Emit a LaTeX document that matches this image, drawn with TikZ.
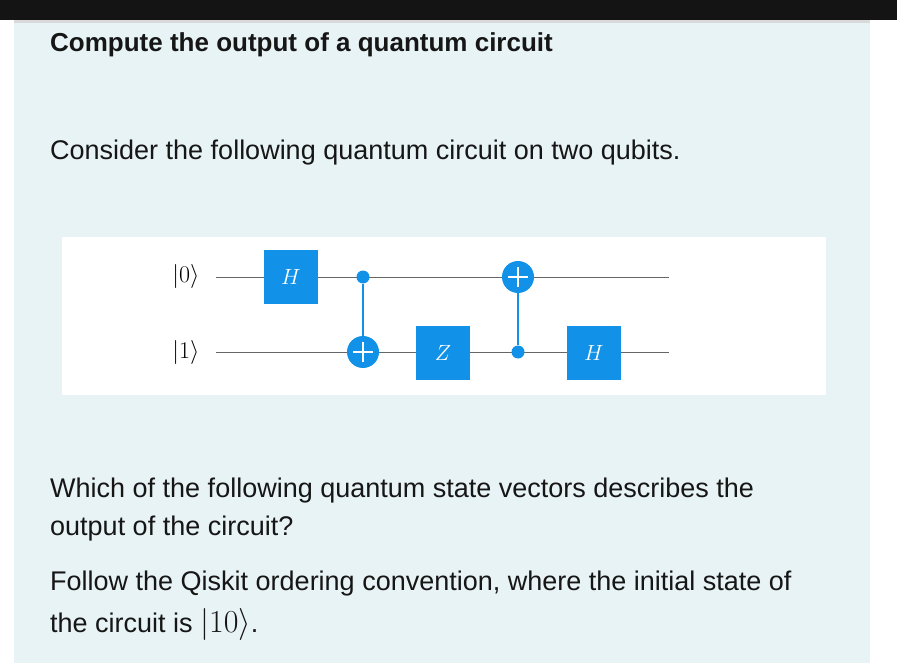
\documentclass[tikz,border=0pt]{standalone}
\usepackage{fix-cm}
\usepackage{amsmath}
\usepackage{fontspec}
\setmainfont{Liberation Sans}
\begin{document}
\begin{tikzpicture}[x=1pt,y=-1pt,
  txt/.style={anchor=base west,inner sep=0,text=fg,font=\fontsize{27}{30}\selectfont},
  gate/.style={fill=qb,minimum size=54pt,inner sep=0,text=white,font=\fontsize{22}{22}\selectfont},
  wire/.style={draw=gray!80!black,line width=1pt},
  ctl/.style={draw=qb,line width=2pt},
  dot/.style={circle,fill=qb,inner sep=0,minimum size=13pt},
  targ/.style={circle,fill=qb,inner sep=0,minimum size=32pt}]
\definecolor{qb}{HTML}{1192E8}
\definecolor{bgc}{HTML}{E8F3F5}
\definecolor{fg}{HTML}{161616}
\useasboundingbox (0,0) rectangle (897,663);
\fill[white] (0,0) rectangle (897,663);
\fill[bgc] (14,20) rectangle (870,663);
\fill[black!92] (0,0) rectangle (897,20);
\fill[black!15] (14,20) rectangle (870,23);
\fill[white] (62,237) rectangle (826,395);
\node[txt,font=\fontsize{26}{28}\selectfont\bfseries] (title) at (50,52) {Compute the output of a quantum circuit};
\node[txt] (p1) at (50,160) {Consider the following quantum circuit on two qubits.};
\node[txt] (p2) at (50,497) {Which of the following quantum state vectors describes the};
\node[txt] (p3) at (50,535) {output of the circuit?};
\node[txt] (p4) at (50,590) {Follow the Qiskit ordering convention, where the initial state of};
\node[txt] (p5) at (50,632) {the circuit is {\fontsize{32}{32}\selectfont$\lvert 10\rangle$}.};
% circuit
\node[font=\fontsize{24}{24}\selectfont] (k0) at (186,277) {$|0\rangle$};
\node[font=\fontsize{24}{24}\selectfont] (k1) at (186,352) {$|1\rangle$};
\coordinate (a0) at (216,277); \coordinate (b0) at (669,277);
\coordinate (a1) at (216,352); \coordinate (b1) at (669,352);
\draw[wire] (a0) -- (b0);
\draw[wire] (a1) -- (b1);
\node[gate] (h1) at (291,277) {$H$};
\node[dot] (c1) at (363,277) {};
\node[targ] (t1) at (363,352) {};
\draw[ctl] (c1) -- (t1);
\node[gate] (z) at (443,353) {$Z$};
\node[targ] (t2) at (518,277) {};
\node[dot] (c2) at (518,352) {};
\draw[ctl] (c2) -- (t2);
\node[gate] (h2) at (594,353) {$H$};
\foreach \t in {t1,t2}{
 \draw[white,line width=2.2pt] ([yshift=-10pt]\t.center) -- ([yshift=10pt]\t.center);
 \draw[white,line width=2.2pt] ([xshift=-10pt]\t.center) -- ([xshift=10pt]\t.center);}
\end{tikzpicture}
\end{document}
